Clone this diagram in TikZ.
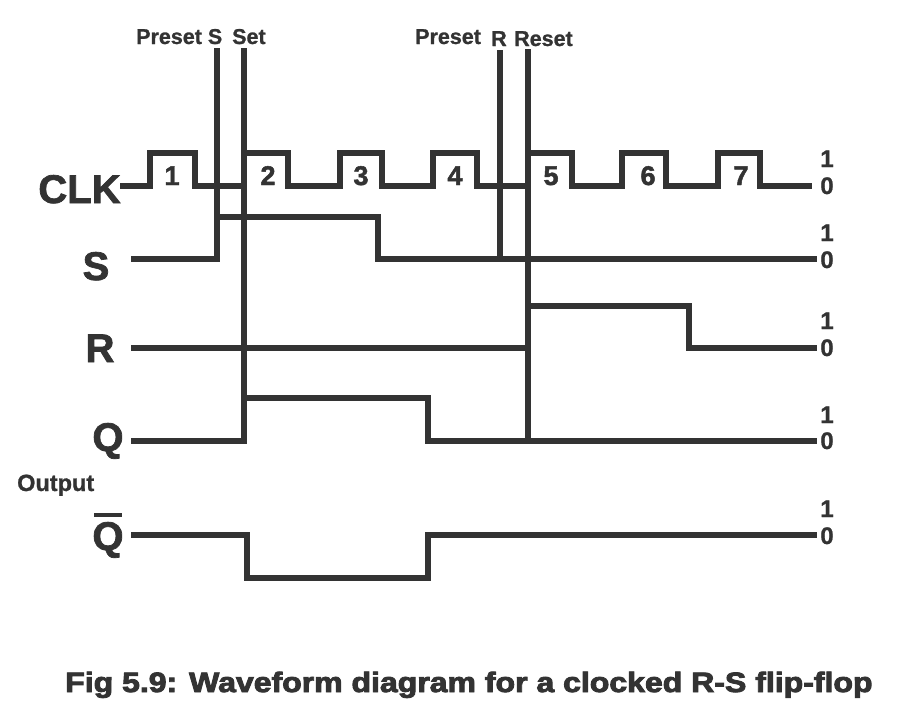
\documentclass[tikz,border=0pt]{standalone}
\usepackage{fontspec}
\setmainfont{Liberation Sans}
\newfontfamily\capfont[FakeBold=3]{Liberation Sans Bold}
\newfontfamily\lblfont[FakeBold=1]{Liberation Sans Bold}
\newfontfamily\bigfont[FakeBold=1.8]{Liberation Sans Bold}
\definecolor{ink}{HTML}{333333}
\tikzset{
  x=1pt,y=-1pt,
  wave/.style={draw=ink,line width=6.5pt,line join=miter,miter limit=10},
  marker/.style={draw=ink,line width=6.5pt},
  txt/.style={text=ink,inner sep=0pt,font=\lblfont},
  big/.style={txt,anchor=base,font=\bigfont\fontsize{40}{40}\selectfont},
  small/.style={txt,anchor=base west,font=\lblfont\fontsize{21.5}{24}\selectfont},
  num/.style={txt,anchor=base,font=\bigfont\fontsize{27}{27}\selectfont},
  lvl/.style={txt,anchor=base,font=\lblfont\fontsize{24}{24}\selectfont},
}
\begin{document}
\begin{tikzpicture}
\useasboundingbox[fill=white] (0,0) rectangle (897,720);
% waveforms
\draw[wave] (120,186) -- (150,186) -- (150,153) -- (195,153) -- (195,186) -- (244,186) -- (244,153) -- (288,153) -- (288,186) -- (340,186) -- (340,153) -- (382,153) -- (382,186) -- (433,186) -- (433,153) -- (477,153) -- (477,186) -- (528,186) -- (528,153) -- (572,153) -- (572,186) -- (622,186) -- (622,153) -- (666,153) -- (666,186) -- (718,186) -- (718,153) -- (760,153) -- (760,186) -- (812,186);
\draw[wave] (131,259) -- (217,259) -- (217,217) -- (378,217) -- (378,259) -- (817,259);
\draw[wave] (131,348) -- (528,348) -- (528,306) -- (689,306) -- (689,348) -- (817,348);
\draw[wave] (131,441) -- (244,441) -- (244,398) -- (428,398) -- (428,441) -- (817,441);
\draw[wave] (131,535) -- (247,535) -- (247,578) -- (428,578) -- (428,535) -- (817,535);
% markers
\draw[marker] (217,48) -- (217,259);
\draw[marker] (244,48) -- (244,441);
\draw[marker] (500,50) -- (500,259);
\draw[marker] (528,49) -- (528,441);
% marker labels
\node[small] (presetS) at (136,44) {Preset S};
\node[small] (setl) at (232,44) {Set};
\node[small] (presetR) at (415,44) {Preset};
\node[small] (rl) at (491,46) {R};
\node[small] (resetl) at (514,46) {Reset};
% signal names
\node[big] (clk) at (79.5,203) {CLK};
\node[big] (s) at (96,280) {S};
\node[big] (r) at (100,362) {R};
\node[big] (q) at (108,451) {Q};
\node[big] (qb) at (108,550) {Q};
\draw[ink,line width=4.5pt] (94,515) -- (122,515);
\node[txt,anchor=base west,font=\lblfont\fontsize{23.5}{24}\selectfont] (output) at (17,491) {Output};
% pulse numbers
\node[num] (n1) at (172,185) {1};
\node[num] (n2) at (268,185) {2};
\node[num] (n3) at (361,185) {3};
\node[num] (n4) at (455,185) {4};
\node[num] (n5) at (551,185) {5};
\node[num] (n6) at (648,185) {6};
\node[num] (n7) at (741,185) {7};
% levels
\foreach \nm/\yo in {a/167,b/241,c/329,d/423,e/517}{\node[lvl] (one\nm) at (827,\yo) {1};}
\foreach \nm/\yz in {a/194,b/268,c/356,d/449,e/544}{\node[lvl] (zero\nm) at (827,\yz) {0};}
% caption
\node[txt,anchor=base west,xscale=1.143,font=\capfont\fontsize{28}{28}\selectfont] (caption) at (65,692) {Fig 5.9: Waveform diagram for a clocked R-S flip-flop};
\end{tikzpicture}
\end{document}
